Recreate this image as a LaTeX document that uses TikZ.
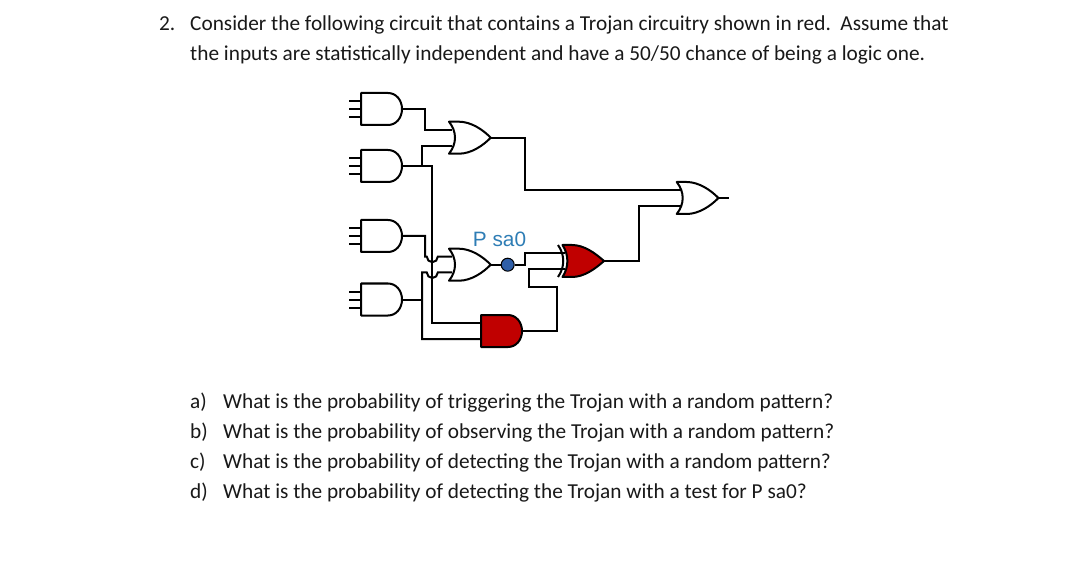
\documentclass[tikz,border=0pt]{standalone}
\usepackage{fontspec}
\setmainfont{Carlito}
\newfontfamily\labelfont{Liberation Sans}
\definecolor{trojan}{HTML}{C00000}
\definecolor{plabel}{HTML}{2E7DB5}
\definecolor{pdot}{HTML}{2F5FA8}
\tikzset{
  x=1bp,y=-1bp,
  wire/.style={line width=2bp,line join=miter},
  gate/.style={line width=2bp,line join=round,fill=white},
  redgate/.style={gate,fill=trojan},
  para/.style={anchor=base west,inner sep=0pt,font=\fontsize{21.3bp}{26bp}\selectfont,text=black!90},
  tag/.style={anchor=center,inner sep=0pt,font=\labelfont\fontsize{20.8bp}{24bp}\selectfont,text=plabel},
  probe/.style={circle,draw=black,line width=1bp,fill=pdot,minimum size=13bp,inner sep=0pt},
  pics/andgate/.style={code={
    \draw[#1] (0,0) -- (27,0) .. controls (35,0) and (41,7) .. (41,16) .. controls (41,25) and (35,32) .. (27,32) -- (0,32) -- cycle;
  }},
  pics/orgate/.style={code={
    \draw[#1] (0,0) -- (10,0) .. controls (22,0) and (34,8) .. (41.7,16) .. controls (34,24) and (22,32) .. (10,32) -- (0,32) .. controls (8,22) and (8,10) .. (0,0) -- cycle;
  }},
  pics/xorgate/.style={code={
    \draw[#1] (3.5,0) -- (13,0) .. controls (25,0) and (36,8) .. (45,16) .. controls (36,24) and (25,32) .. (13,32) -- (3.5,32) .. controls (10,22) and (10,10) .. (3.5,0) -- cycle;
    \draw[line width=2bp] (-1,0) .. controls (6,10) and (6,22) .. (-1,32);
  }},
}
\newcommand{\threeinputs}[2]{%
  \draw[wire] (349,#2+8) -- (#1,#2+8);
  \draw[wire] (349,#2+16) -- (#1,#2+16);
  \draw[wire] (349,#2+24) -- (#1,#2+24);
}
\begin{document}
\begin{tikzpicture}
\useasboundingbox[fill=white] (0,0) rectangle (1080,584);

% text
\node[para] (q1) at (159,31) {2.};
\node[para] (q1b) at (190,31) {Consider the following circuit that contains a Trojan circuitry shown in red.\ \ Assume that};
\node[para] (q2) at (190,61) {the inputs are statistically independent and have a 50/50 chance of being a logic one.};
\node[para] (la) at (190,408) {a)};
\node[para] (ta) at (223,408) {What is the probability of triggering the Trojan with a random pattern?};
\node[para] (lb) at (190,438) {b)};
\node[para] (tb) at (223,438) {What is the probability of observing the Trojan with a random pattern?};
\node[para] (lc) at (190,468) {c)};
\node[para] (tc) at (223,468) {What is the probability of detecting the Trojan with a random pattern?};
\node[para] (ld) at (190,498) {d)};
\node[para] (td) at (223,498) {What is the probability of detecting the Trojan with a test for P sa0?};
\node[tag] (ptag) at (499.5,239) {P sa0};

% pins
\coordinate (a1o) at (402,109);
\coordinate (a2o) at (402,166);
\coordinate (a3o) at (402,236);
\coordinate (a4o) at (402,299.5);
\coordinate (o1a) at (452,129.7);
\coordinate (o1b) at (452,145.7);
\coordinate (o1o) at (490.7,137.7);
\coordinate (o2a) at (452,256.7);
\coordinate (o2b) at (452,272.5);
\coordinate (o2o) at (490.7,264.7);
\coordinate (fa) at (682,190);
\coordinate (fb) at (682,206);
\coordinate (fo) at (718.4,198);
\coordinate (fend) at (729,198);
\coordinate (xa) at (565,253.3);
\coordinate (xb) at (565,269.3);
\coordinate (xo) at (604,261);
\coordinate (ra) at (481,323);
\coordinate (rb) at (481,339);
\coordinate (ro) at (522,331);
\node[probe] (pp) at (507.7,264.7) {};

% wires
\draw[wire] (a1o) -| (425,129.7) -- (o1a);
\draw[wire] (a2o) -- (432.3,166) -- (432.3,323) -- (ra);
\draw[wire] (422,166) |- (o1b);
\draw[wire] (o1o) -| (525,190) -- (fa);
\draw[wire] (a3o) -| (425,256.7) -- (426.8,256.7) arc[start angle=180,end angle=0,radius=5.5] -- (o2a);
\draw[wire] (a4o) -- (422,299.5);
\draw[wire] (rb) -| (422,272.5) -- (426.8,272.5) arc[start angle=180,end angle=0,radius=5.5] -- (o2b);
\draw[wire] (o2o) -- (pp);
\draw[wire] (pp) -- (525,264.7) |- (xa);
\draw[wire] (ro) -| (557,286.7) -| (528.7,269.3) -- (xb);
\draw[wire] (xo) -| (639,206) -- (fb);
\draw[wire] (fo) -- (fend);

% input stubs
\threeinputs{361}{93}
\threeinputs{361}{150}
\threeinputs{361}{220}
\threeinputs{361}{283.5}

% gates
\pic at (361,93) {andgate=gate};
\pic at (361,150) {andgate=gate};
\pic at (361,220) {andgate=gate};
\pic at (361,283.5) {andgate=gate};
\pic at (449,121.7) {orgate=gate};
\pic at (449,248.7) {orgate=gate};
\pic at (676.7,182) {orgate=gate};
\pic at (481,315) {andgate=redgate};
\pic at (559,245) {xorgate=redgate};
\end{tikzpicture}
\end{document}
